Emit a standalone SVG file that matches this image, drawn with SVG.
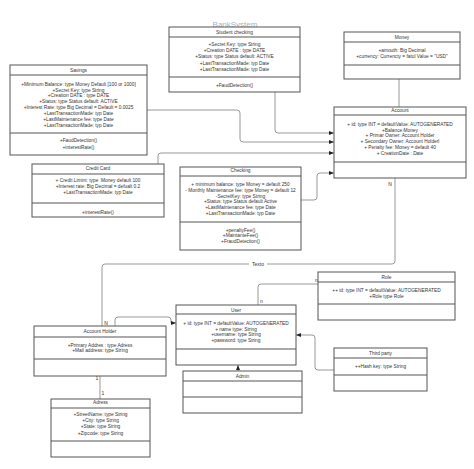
<svg xmlns="http://www.w3.org/2000/svg" width="474" height="469" viewBox="0 0 474 469">
<style>
  .box{fill:#fff;stroke:#555;stroke-width:1}
  .dv{stroke:#555;stroke-width:1}
  text{font-family:"Liberation Sans",Arial,sans-serif;font-size:4.8px;fill:#333;text-anchor:middle}
  .cn{fill:none;stroke:#999;stroke-width:1}
  .lbl{font-size:5px}
</style>
<defs>
  <marker id="arr" markerUnits="userSpaceOnUse" markerWidth="5" markerHeight="4" refX="5" refY="2" orient="auto">
    <path d="M0,0 L5,2 L0,4 z" fill="#222"/>
  </marker>
</defs>
<rect width="474" height="469" fill="#fff"/>
<text x="235" y="27" style="font-size:8px;fill:#a9b1c1">BankSystem</text>

<g id="connectors">
  <path class="cn" d="M275,92 V130 Q275,133 278,133 H334" marker-end="url(#arr)"/>
  <path class="cn" d="M147,110 H237 Q240,110 240,113 V139 Q240,142 243,142 H334" marker-end="url(#arr)"/>
  <path class="cn" d="M158,164 V156 Q158,153 161,153 H334" marker-end="url(#arr)"/>
  <path class="cn" d="M301,200 H314 Q317,200 317,197 V176 Q317,173 320,173 H334" marker-end="url(#arr)"/>
  <path class="cn" d="M399,79 V107"/>
  <path class="cn" d="M395,178 V261 Q395,264 392,264 H105 Q102,264 102,267 V326"/>
  <rect x="249" y="261" width="18" height="6" fill="#fff"/>
  <text x="258" y="265.7" class="lbl">Texto</text>
  <text x="390" y="185.5" class="lbl">N</text>
  <text x="106" y="324.5" class="lbl">N</text>
  <path class="cn" d="M318,284 H261 Q258,284 258,287 V305"/>
  <text x="316.5" y="282" class="lbl">n</text>
  <text x="261.5" y="303" class="lbl">n</text>
  <path class="cn" d="M115,326 V320 Q115,317 118,317 H168 Q171,317 171,320 V323 H176" marker-end="url(#arr)"/>
  <path class="cn" d="M334,370 H318 Q315,370 315,367 V338 Q315,335 312,335 H296" marker-end="url(#arr)"/>
  <path class="cn" d="M238,371 V365" marker-end="url(#arr)"/>
  <path class="cn" d="M100,376 V399"/>
  <text x="97" y="379.5" class="lbl">1</text>
  <text x="103" y="394.5" class="lbl">1</text>
</g>

<g id="student-checking">
  <rect class="box" x="169" y="27" width="131" height="65"/>
  <line class="dv" x1="169" y1="37" x2="300" y2="37"/>
  <line class="dv" x1="169" y1="77" x2="300" y2="77"/>
  <text x="234.5" y="34">Student checking</text>
  <text x="234.5" y="46">+Secret Key: type String</text>
  <text x="234.5" y="52.2">+Creation DATE : type DATE</text>
  <text x="234.5" y="58.4">+Status: type Status default: ACTIVE</text>
  <text x="234.5" y="64.6">+LastTransactionMade: typ Date</text>
  <text x="234.5" y="70.8">+LastTransactionMade: typ Date</text>
  <text x="234.5" y="86.7">+FaudDetection()</text>
</g>

<g id="money">
  <rect class="box" x="344" y="32" width="116" height="47"/>
  <line class="dv" x1="344" y1="42" x2="460" y2="42"/>
  <line class="dv" x1="344" y1="65" x2="460" y2="65"/>
  <text x="402" y="39.4">Money</text>
  <text x="402" y="51.7">+amouth: Big Decimal</text>
  <text x="402" y="58.4">+currency: Currencty = fatul Value = "USD"</text>
</g>

<g id="savings">
  <rect class="box" x="10" y="65" width="137" height="90"/>
  <line class="dv" x1="10" y1="75" x2="147" y2="75"/>
  <line class="dv" x1="10" y1="133" x2="147" y2="133"/>
  <text x="78.5" y="71.7">Savings</text>
  <text x="78.5" y="85.7">+Minimum Balance: type Money Default [100 or 1000]</text>
  <text x="78.5" y="91.6">+Secret Key: type String</text>
  <text x="78.5" y="97.4">+Creation DATE : type DATE</text>
  <text x="78.5" y="103.3">+Status: type Status default: ACTIVE</text>
  <text x="78.5" y="109.1">+Interest Rate: type Big Decimal = Default  = 0.0025</text>
  <text x="78.5" y="115">+LastTransactionMade: typ Date</text>
  <text x="78.5" y="120.9">+LastMaintenance fee: type Date</text>
  <text x="78.5" y="126.7">+LastTransactionMade: typ Date</text>
  <text x="78.5" y="141.7">+FaudDetection()</text>
  <text x="78.5" y="149">+interestRate()</text>
</g>

<g id="account">
  <rect class="box" x="334" y="107" width="132" height="71"/>
  <line class="dv" x1="334" y1="115" x2="466" y2="115"/>
  <line class="dv" x1="334" y1="162" x2="466" y2="162"/>
  <text x="400" y="112.4">Account</text>
  <text x="400" y="125.7">+ id: type INT = defaultValue: AUTOGENERATED</text>
  <text x="400" y="131.5">+Balance:Money</text>
  <text x="400" y="137.3">+ Primar Owner: Account Holder</text>
  <text x="400" y="143.1">+ Secondary Owner: Account Holderl</text>
  <text x="400" y="148.9">+ Penalty fee: Money = default 40</text>
  <text x="400" y="154.7">+ CreationDate : Date</text>
</g>

<g id="credit-card">
  <rect class="box" x="32" y="164" width="132" height="53"/>
  <line class="dv" x1="32" y1="174" x2="164" y2="174"/>
  <line class="dv" x1="32" y1="203" x2="164" y2="203"/>
  <text x="98" y="170">Credit Card</text>
  <text x="98" y="181.7">+ Credit Limint: type :Money default 100</text>
  <text x="98" y="188">+Interest rate: Big Decimal = defualt 0.2</text>
  <text x="98" y="194.3">+LastTransactionMade: typ Date</text>
  <text x="98" y="213.7">+interestRate()</text>
</g>

<g id="checking">
  <rect class="box" x="180" y="167" width="121" height="83"/>
  <line class="dv" x1="180" y1="176" x2="301" y2="176"/>
  <line class="dv" x1="180" y1="222" x2="301" y2="222"/>
  <text x="240.5" y="172">Checking</text>
  <text x="240.5" y="185.7">+ minimum balance: type Money = default 250</text>
  <text x="240.5" y="191.6">- Monthly Maintenance fee: type Money = default 12</text>
  <text x="240.5" y="197.5">-SecretKey: type String</text>
  <text x="240.5" y="203.4">+Status: type Status default Active</text>
  <text x="240.5" y="209.3">+LastMaintenance fee: type Date</text>
  <text x="240.5" y="215.2">+LastTransactionMade: typ Date</text>
  <text x="240.5" y="231.7">+penaltyFee()</text>
  <text x="240.5" y="237.2">+MaintanteFee()</text>
  <text x="240.5" y="242.7">+FraudDetection()</text>
</g>

<g id="role">
  <rect class="box" x="318" y="272" width="137" height="48"/>
  <line class="dv" x1="318" y1="282" x2="455" y2="282"/>
  <line class="dv" x1="318" y1="304" x2="455" y2="304"/>
  <text x="386.5" y="279">Role</text>
  <text x="386.5" y="291.7">++ id: type INT = defaultValue: AUTOGENERATED</text>
  <text x="386.5" y="298.4">+Role type Role</text>
</g>

<g id="user">
  <rect class="box" x="176" y="305" width="120" height="60"/>
  <line class="dv" x1="176" y1="314" x2="296" y2="314"/>
  <line class="dv" x1="176" y1="349" x2="296" y2="349"/>
  <text x="236" y="311.7">User</text>
  <text x="236" y="325">+ id: type INT = defaultValue: AUTOGENERATED</text>
  <text x="236" y="330.5">+ name type: String</text>
  <text x="236" y="336">+username: type String</text>
  <text x="236" y="341.5">+password: type String</text>
</g>

<g id="account-holder">
  <rect class="box" x="34" y="326" width="132" height="50"/>
  <line class="dv" x1="34" y1="337" x2="166" y2="337"/>
  <line class="dv" x1="34" y1="359" x2="166" y2="359"/>
  <text x="100" y="333.4">Account Holder</text>
  <text x="100" y="346.5">+Primary Addres : type Adress</text>
  <text x="100" y="352">+Mail address: type String</text>
</g>

<g id="admin">
  <rect class="box" x="183" y="371" width="119" height="42"/>
  <line class="dv" x1="183" y1="381" x2="302" y2="381"/>
  <line class="dv" x1="183" y1="397" x2="302" y2="397"/>
  <text x="242.5" y="377.7">Admin</text>
</g>

<g id="third-party">
  <rect class="box" x="334" y="348" width="93" height="43"/>
  <line class="dv" x1="334" y1="358" x2="427" y2="358"/>
  <line class="dv" x1="334" y1="375" x2="427" y2="375"/>
  <text x="380.5" y="355">Third party</text>
  <text x="380.5" y="368.4">++Hash key: type  String</text>
</g>

<g id="adress">
  <rect class="box" x="51" y="399" width="99" height="58"/>
  <line class="dv" x1="51" y1="408" x2="150" y2="408"/>
  <line class="dv" x1="51" y1="441" x2="150" y2="441"/>
  <text x="100.5" y="404">Adress</text>
  <text x="100.5" y="416">+StreetName: type String</text>
  <text x="100.5" y="422.2">+City: type String</text>
  <text x="100.5" y="428.4">+State: type String</text>
  <text x="100.5" y="434.6">+Zipcode: type String</text>
</g>
</svg>
